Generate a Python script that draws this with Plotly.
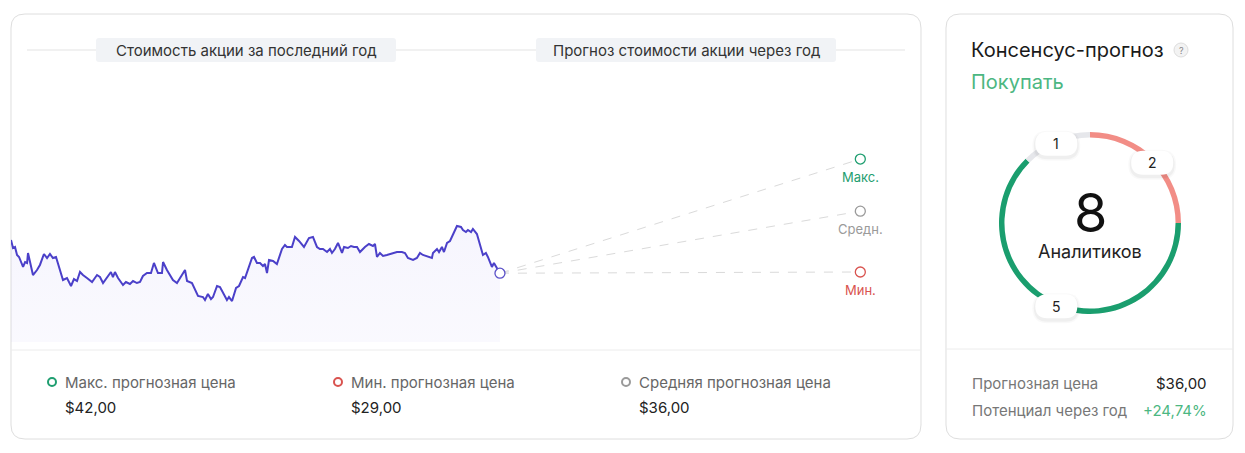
import math
import plotly.graph_objects as go

# the page has an 8px body margin, so the figure is a bit smaller than the window
OFF = 8
W, H = 1245 - 2 * OFF, 453 - 2 * OFF

# --- price over the last year (day of year, price $) ---
days = [0, 1.5, 3, 4.5, 6, 9, 10.5, 12, 12.7, 16.4, 19.4, 21.6, 24.6, 26.9, 29.1, 31.3, 33.6,
        38.8, 41.8, 44.8, 47, 49.3, 51.5, 53.7, 56.7, 60.5, 64.2, 66.4, 68.7, 71.7, 74.6, 76.1,
        77.6, 79.9, 83.6, 85.8, 88.8, 91.1, 94, 96.3, 98.5, 101.5, 104.5, 106.7, 109.7, 112.7,
        113.5, 116.4, 120.9, 123.9, 129.9, 131.4, 135.1, 139.6, 143.3, 144.8, 147, 149.3, 150.8,
        153.8, 156, 161.2, 162.7, 165, 168, 170.2, 173.2, 174.7, 179.9, 181.4, 183.6, 185.9,
        188.1, 189.6, 191.1, 192.6, 195.6, 198.5, 202.3, 204.5, 206, 209.7, 212, 215, 218.7,
        222.4, 225.4, 228.4, 230.6, 232.9, 235.9, 238.1, 239.6, 241.8, 244.1, 247.1, 248.6,
        251.5, 253.8, 256, 258.3, 260.5, 264.2, 267.2, 270.2, 271.7, 273.2, 275.4, 277.7, 280.6,
        282.9, 288.1, 291.8, 294.1, 296.3, 300.1, 303, 305.3, 307.5, 311.3, 314.2, 315, 318,
        319.5, 321.7, 323.2, 325.5, 327.7, 330, 332.9, 335.9, 337.4, 339.6, 341.1, 343.4, 344.8,
        347.8, 349.3, 352.3, 354.5, 356, 359, 360.5, 362.7, 365]
prices = [32.68, 31.76, 31.88, 30.96, 30.73, 29.58, 30.15, 30.04, 31.19, 28.65, 29.23, 29.81,
          31.07, 30.61, 31.07, 30.61, 30.73, 28.08, 28.31, 27.39, 28.19, 27.96, 29.0, 28.65,
          28.31, 27.85, 28.65, 28.42, 27.73, 28.31, 29.0, 28.42, 29.0, 28.31, 27.50, 27.85,
          27.62, 27.96, 27.73, 27.85, 28.54, 28.88, 28.88, 30.04, 28.88, 28.88, 30.15, 29.23,
          28.08, 27.73, 29.23, 27.96, 27.73, 26.24, 26.12, 25.78, 26.47, 25.89, 26.12, 27.39,
          27.27, 25.78, 26.12, 25.66, 27.16, 27.39, 28.42, 28.31, 30.61, 30.73, 30.04, 30.04,
          29.69, 29.92, 28.88, 30.38, 30.27, 29.92, 31.65, 32.11, 31.88, 31.88, 33.03, 32.57,
          31.88, 32.91, 33.03, 31.88, 31.65, 31.65, 31.30, 31.65, 31.19, 31.65, 32.34, 31.19,
          31.88, 31.76, 31.99, 31.88, 31.88, 31.30, 31.88, 32.22, 31.99, 32.22, 30.73, 31.19,
          30.84, 30.96, 31.07, 31.30, 31.30, 31.19, 30.61, 30.38, 30.61, 31.19, 30.96, 30.73,
          30.61, 31.19, 31.65, 31.30, 31.88, 31.30, 32.34, 32.57, 33.26, 34.29, 34.18, 33.83,
          33.60, 33.83, 33.60, 33.95, 33.37, 32.45, 30.96, 31.19, 30.73, 29.58, 30.04, 29.46,
          28.86]

# --- analyst targets ---
forecast_labels = ["Макс.", "Средн.", "Мин."]
forecast_values = [42, 36, 29]
forecast_colors = ["#1f9e70", "#9a9a9a", "#d9534f"]
forecast_day = 634

legend_names = ["Макс. прогнозная цена", "Мин. прогнозная цена", "Средняя прогнозная цена"]
legend_values = [42, 29, 36]
legend_colors = ["#1f9e70", "#d9534f", "#9a9a9a"]

# --- consensus (clockwise from 12 o'clock) ---
rating_names = ["Продавать", "Покупать", "Держать"]
rating_counts = [2, 5, 1]
rating_colors = ["#f28d86", "#1a9e6e", "#e6e7eb"]
consensus = "Покупать"
target_price = 36


def money(v):
    return ("$%.2f" % v).replace(".", ",")


def px(x):
    return (x - OFF) / W


def py(y):
    return 1 - (y - OFF) / H


def rrect(x0, y0, x1, y1, r):
    pts = [("M", x0 + r, y0), ("L", x1 - r, y0), ("Q", x1, y0, x1, y0 + r),
           ("L", x1, y1 - r), ("Q", x1, y1, x1 - r, y1), ("L", x0 + r, y1),
           ("Q", x0, y1, x0, y1 - r), ("L", x0, y0 + r), ("Q", x0, y0, x0 + r, y0)]
    s = ""
    for p in pts:
        coords = p[1:]
        parts = []
        for i in range(0, len(coords), 2):
            parts.append("%.5f,%.5f" % (px(coords[i]), py(coords[i + 1])))
        s += p[0] + " ".join(parts) + " "
    return s + "Z"


FONT = "Inter, Roboto, sans-serif"
fig = go.Figure()

# price line
fig.add_trace(go.Scatter(
    x=days, y=prices, mode="lines",
    line=dict(color="#4b40c9", width=2),
    fill="tozeroy",
    fillgradient=dict(type="vertical",
                      colorscale=[[0, "rgba(110,95,230,0.0)"], [1, "rgba(110,95,230,0.06)"]]),
    hoverinfo="skip", showlegend=False))

# dashed forecast lines
current = prices[-1]
for v in forecast_values:
    fig.add_trace(go.Scatter(
        x=[days[-1], forecast_day], y=[current, v], mode="lines",
        line=dict(color="#dadada", width=1, dash="dash"),
        hoverinfo="skip", showlegend=False))

fig.add_trace(go.Scatter(
    x=[days[-1]], y=[current], mode="markers",
    marker=dict(size=10, color="white", line=dict(color="#5a50c8", width=1.3)),
    hoverinfo="skip", showlegend=False, cliponaxis=False))

fig.add_trace(go.Scatter(
    x=[forecast_day] * len(forecast_values), y=forecast_values, mode="markers",
    marker=dict(size=10, color="white", line=dict(color=forecast_colors, width=1.3)),
    hoverinfo="skip", showlegend=False, cliponaxis=False))

# consensus donut
cx, cy, R = 1090, 223, 91
fig.add_trace(go.Pie(
    values=rating_counts, labels=rating_names, sort=False, direction="clockwise",
    rotation=0, hole=0.94, textinfo="none", hoverinfo="skip", showlegend=False,
    marker=dict(colors=rating_colors, line=dict(width=0)),
    domain=dict(x=[px(cx - R), px(cx + R)], y=[py(cy + R), py(cy - R)])))

shapes = []
ann = []


def text(x, y, t, size=14, color="#222222", anchor="center"):
    ann.append(dict(x=px(x), y=py(y), xref="paper", yref="paper", text=t, showarrow=False,
                    xanchor=anchor, yanchor="middle",
                    font=dict(size=size, color=color, family=FONT)))


for lab, v, col in zip(forecast_labels, forecast_values, forecast_colors):
    ann.append(dict(x=forecast_day, y=v, xref="x", yref="y", text=lab, showarrow=False,
                    xanchor="center", yanchor="middle", yshift=-18,
                    font=dict(size=13, color=col, family=FONT)))

# cards
shapes.append(dict(type="path", path=rrect(11, 14, 921, 439, 14), xref="paper", yref="paper",
                   line=dict(color="#dedede", width=1), fillcolor="white", layer="below"))
shapes.append(dict(type="path", path=rrect(946, 14, 1233, 439, 14), xref="paper", yref="paper",
                   line=dict(color="#dedede", width=1), fillcolor="white", layer="below"))
shapes.append(dict(type="line", xref="paper", yref="paper", x0=px(11), x1=px(921),
                   y0=py(350), y1=py(350), line=dict(color="#ececec", width=1), layer="below"))
shapes.append(dict(type="line", xref="paper", yref="paper", x0=px(946), x1=px(1233),
                   y0=py(349), y1=py(349), line=dict(color="#ececec", width=1), layer="below"))

# header
shapes.append(dict(type="line", xref="paper", yref="paper", x0=px(27), x1=px(905),
                   y0=py(50), y1=py(50), line=dict(color="#e3e3e3", width=1), layer="below"))
for x0, x1, t in [(96, 396, "Стоимость акции за последний год"),
                  (536, 836, "Прогноз стоимости акции через год")]:
    shapes.append(dict(type="path", path=rrect(x0, 38, x1, 62, 3), xref="paper", yref="paper",
                       line=dict(width=0), fillcolor="#f1f3f6", layer="below"))
    text((x0 + x1) / 2, 50, t, 15, "#333333")

# bottom legend
for i, (name, val, col) in enumerate(zip(legend_names, legend_values, legend_colors)):
    lx = [52, 338, 626][i]
    shapes.append(dict(type="circle", xref="paper", yref="paper",
                       x0=px(lx - 4), x1=px(lx + 4), y0=py(386), y1=py(378),
                       line=dict(color=col, width=2), fillcolor="white"))
    text(lx + 11, 382, name, 15, "#666666", "left")
    text(lx + 11, 407, money(val), 15, "#222222", "left")

# right card texts
text(969, 50, "Консенсус-прогноз", 20, "#1a1a1a", "left")
shapes.append(dict(type="circle", xref="paper", yref="paper", x0=px(1174), x1=px(1188),
                   y0=py(57), y1=py(43), line=dict(color="#dddddd", width=1), fillcolor="#f3f3f3"))
text(1181, 50, "?", 9, "#888888")
text(969, 82, consensus, 20, "#4cb782", "left")

text(cx, 212, str(sum(rating_counts)), 54, "#111111")
text(cx, 251, "Аналитиков", 18, "#222222")

# count bubbles at the middle of each arc
total = sum(rating_counts)
acc = 0
for cnt in rating_counts:
    a = 2 * math.pi * (acc + cnt / 2) / total
    acc += cnt
    bx = cx + (R - 3) * math.sin(a)
    by = cy - (R - 3) * math.cos(a) + 2
    for k, alpha in [(3, 0.025), (1.5, 0.04)]:
        shapes.append(dict(type="path",
                           path=rrect(bx - 21 - k, by - 12 - k + 2, bx + 21 + k, by + 12 + k + 2, 12 + k),
                           xref="paper", yref="paper", line=dict(width=0),
                           fillcolor="rgba(0,0,0,%s)" % alpha, layer="above"))
    shapes.append(dict(type="path", path=rrect(bx - 21, by - 12, bx + 21, by + 12, 12),
                       xref="paper", yref="paper", line=dict(width=0), fillcolor="white",
                       layer="above"))
    text(bx, by, str(cnt), 14, "#222222")

potential = (target_price / current - 1) * 100
text(970, 383, "Прогнозная цена", 15, "#777777", "left")
text(1209, 383, money(target_price), 15, "#222222", "right")
text(970, 410, "Потенциал через год", 15, "#777777", "left")
text(1209, 410, ("+%.2f%%" % potential).replace(".", ","), 15, "#4cb782", "right")

fig.update_layout(
    width=W, height=H, margin=dict(l=0, r=0, t=0, b=0),
    paper_bgcolor="white", plot_bgcolor="rgba(0,0,0,0)",
    shapes=shapes, annotations=ann, showlegend=False,
    xaxis=dict(domain=[px(11), px(921)], range=[0, 679.3], visible=False, fixedrange=True),
    yaxis=dict(domain=[py(342), py(100)], range=[29 - 70 / 8.69, 29 + 172 / 8.69],
               visible=False, fixedrange=True),
    font=dict(family=FONT),
)

fig.write_html("out.html")
